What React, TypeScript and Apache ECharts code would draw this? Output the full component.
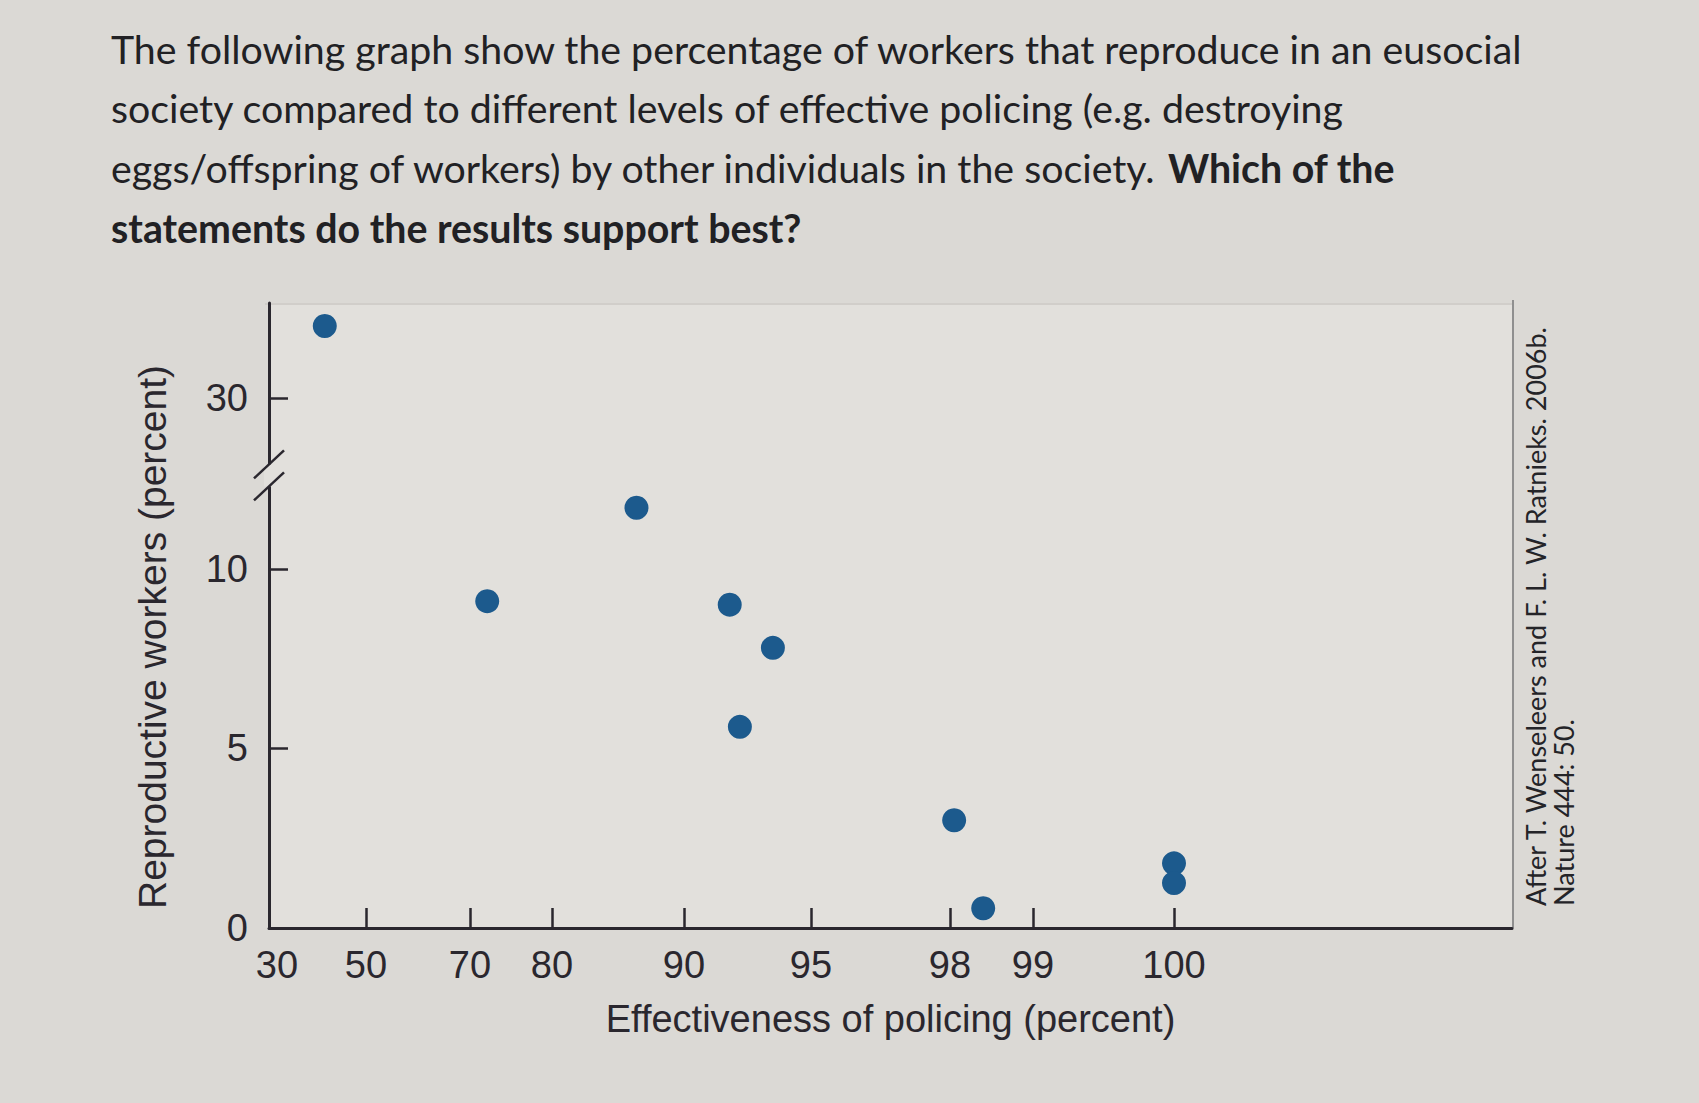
import React, { useEffect, useRef } from 'react';
import * as echarts from 'echarts';

// question text above the figure
const QUESTION_LINES = [
  'The following graph show the percentage of workers that reproduce in an eusocial',
  'society compared to different levels of effective policing (e.g. destroying',
  'eggs/offspring of workers) by other individuals in the society. ',
  'statements do the results support best?',
];
const QUESTION_BOLD_TAIL = 'Which of the';
const SOURCE_LINES = ['After T. Wenseleers and F. L. W. Ratnieks. 2006b.', 'Nature 444: 50.'];

// one point per species (policing %, reproductive workers %)
const POLICING = [41.5, 72.1, 86.4, 91.8, 93.5, 92.2, 98.05, 98.4, 100, 100];
const REPRODUCTIVE = [32, 9.1, 11.7, 9.0, 7.8, 5.6, 3.0, 0.55, 1.8, 1.25];

// x axis is stretched towards 100 %, so each tick gets its own place along the axis
const X_TICKS = [30, 50, 70, 80, 90, 95, 98, 99, 100];
const X_TICK_POS = [0, 97, 201, 283, 415, 542, 681, 764, 905];
const X_AXIS_END = 1243;

// y axis has a break between about 12.6 and 27.8
const Y_TICKS = [0, 5, 10, 30];
const Y_BREAK_LOW = 12.6;
const Y_BREAK_HIGH = 27.84;
const Y_AXIS_END = 17.4;

const BG = '#dbd9d5';
const PANEL = '#e2e0dc';
const INK = '#2a272e';
const DOT = '#1c5a8d';
const SANS = '"Liberation Sans", Arial, sans-serif';
const LATO = 'Lato, "Noto Sans", sans-serif';

function xPos(v: number) {
  for (let i = 0; i < X_TICKS.length - 1; i++) {
    if (v <= X_TICKS[i + 1]) {
      const t = (v - X_TICKS[i]) / (X_TICKS[i + 1] - X_TICKS[i]);
      return X_TICK_POS[i] + t * (X_TICK_POS[i + 1] - X_TICK_POS[i]);
    }
  }
  return X_TICK_POS[X_TICK_POS.length - 1];
}

function yPos(v: number) {
  return v <= Y_BREAK_LOW ? v : v - (Y_BREAK_HIGH - Y_BREAK_LOW);
}

const GRID = { left: 269, top: 303, right: 187, bottom: 175 };

export default function App() {
  const chartRef = useRef<HTMLDivElement>(null);

  useEffect(() => {
    document.body.style.margin = '0';
    if (!chartRef.current) return;
    const chart = echarts.init(chartRef.current, null, { renderer: 'svg' });

    const yTickPos = Y_TICKS.map(yPos);

    const option: any = {
      animation: false,
      backgroundColor: BG,
      grid: { ...GRID, show: true, backgroundColor: PANEL, borderWidth: 0 },
      xAxis: {
        type: 'value',
        min: 0,
        max: X_AXIS_END,
        name: 'Effectiveness of policing (percent)',
        nameLocation: 'middle',
        nameGap: 72,
        nameTextStyle: { fontFamily: SANS, fontSize: 38, color: INK },
        axisLine: { lineStyle: { color: INK, width: 3 } },
        axisTick: {
          customValues: X_TICK_POS.slice(1),
          inside: true,
          length: 20,
          lineStyle: { color: INK, width: 2.5 },
        },
        axisLabel: {
          customValues: X_TICK_POS,
          margin: 18,
          fontFamily: SANS,
          fontSize: 38,
          color: INK,
          rich: { first: { fontFamily: SANS, fontSize: 38, color: INK, padding: [0, 0, 0, 16] } },
          formatter: (v: number) => {
            const i = X_TICK_POS.findIndex((p) => Math.abs(p - v) < 0.01);
            if (i < 0) return '';
            return i === 0 ? `{first|${X_TICKS[i]}}` : String(X_TICKS[i]);
          },
        },
        splitLine: { show: false },
      },
      yAxis: {
        type: 'value',
        min: 0,
        max: Y_AXIS_END,
        axisLine: { show: true, lineStyle: { color: INK, width: 3 } },
        axisTick: {
          show: true,
          customValues: yTickPos.slice(1),
          inside: true,
          length: 19,
          lineStyle: { color: INK, width: 2.5 },
        },
        axisLabel: {
          customValues: yTickPos,
          margin: 21,
          fontFamily: SANS,
          fontSize: 38,
          color: INK,
          formatter: (v: number) => {
            const i = yTickPos.findIndex((p) => Math.abs(p - v) < 0.01);
            return i >= 0 ? String(Y_TICKS[i]) : '';
          },
        },
        splitLine: { show: false },
      },
      series: [
        {
          type: 'scatter',
          symbolSize: 24,
          itemStyle: { color: DOT, opacity: 1 },
          data: POLICING.map((p, i) => [xPos(p), yPos(REPRODUCTIVE[i])]),
          z: 5,
        },
      ],
    };
    chart.setOption(option);

    // place the // mark on the y axis where the scale is broken
    const [bx, by] = chart.convertToPixel({ gridIndex: 0 }, [0, Y_BREAK_LOW]) as number[];
    const plotRight = 1699 - GRID.right;
    const plotBottom = 1103 - GRID.bottom;

    const textStyle = (size: number, weight: string) => ({
      fontFamily: LATO,
      fontSize: size,
      fontWeight: weight,
      fill: '#212124',
    });

    chart.setOption({
      graphic: [
        ...QUESTION_LINES.map((line, i) => ({
          type: 'text',
          x: 111,
          y: 48 + i * 59.8,
          style: {
            text: i === 2 ? `{n|${line}}{b|${QUESTION_BOLD_TAIL}}` : line,
            ...textStyle(39.3, i === 3 ? 'bold' : 'normal'),
            rich: i === 2 ? { n: textStyle(39.3, 'normal'), b: textStyle(39.3, 'bold') } : undefined,
            align: 'left',
            verticalAlign: 'middle',
            textAlign: 'left',
            textVerticalAlign: 'middle',
          },
        })),
        {
          type: 'text',
          x: 152,
          y: 637,
          rotation: Math.PI / 2,
          style: {
            text: 'Reproductive workers (percent)',
            fontFamily: SANS,
            fontSize: 39,
            fill: INK,
            align: 'center',
            verticalAlign: 'middle',
            textAlign: 'center',
            textVerticalAlign: 'middle',
          },
        },
        ...SOURCE_LINES.map((line, i) => ({
          type: 'text',
          x: 1535 + i * 28,
          y: 906,
          rotation: Math.PI / 2,
          style: {
            text: line,
            fontFamily: LATO,
            fontSize: 27,
            fill: '#242428',
            align: 'left',
            verticalAlign: 'middle',
            textAlign: 'left',
            textVerticalAlign: 'middle',
          },
        })),
        {
          type: 'line',
          shape: { x1: GRID.left - 4, y1: GRID.top + 1, x2: plotRight, y2: GRID.top + 1 },
          style: { stroke: '#cbc9c5', lineWidth: 1.5 },
        },
        {
          type: 'line',
          shape: { x1: plotRight + 1, y1: GRID.top - 3, x2: plotRight + 1, y2: plotBottom },
          style: { stroke: '#8f8f8f', lineWidth: 2 },
        },
        {
          type: 'rect',
          shape: { x: bx - 5, y: by - 11, width: 10, height: 22 },
          style: { fill: PANEL },
          z: 10,
        },
        {
          type: 'line',
          shape: { x1: bx - 15, y1: by + 3, x2: bx + 15, y2: by - 25 },
          style: { stroke: INK, lineWidth: 2.5 },
          z: 11,
        },
        {
          type: 'line',
          shape: { x1: bx - 15, y1: by + 25, x2: bx + 15, y2: by - 3 },
          style: { stroke: INK, lineWidth: 2.5 },
          z: 11,
        },
      ],
    });

    return () => {
      chart.dispose();
    };
  }, []);

  return <div ref={chartRef} style={{ width: 1699, height: 1103 }} />;
}
